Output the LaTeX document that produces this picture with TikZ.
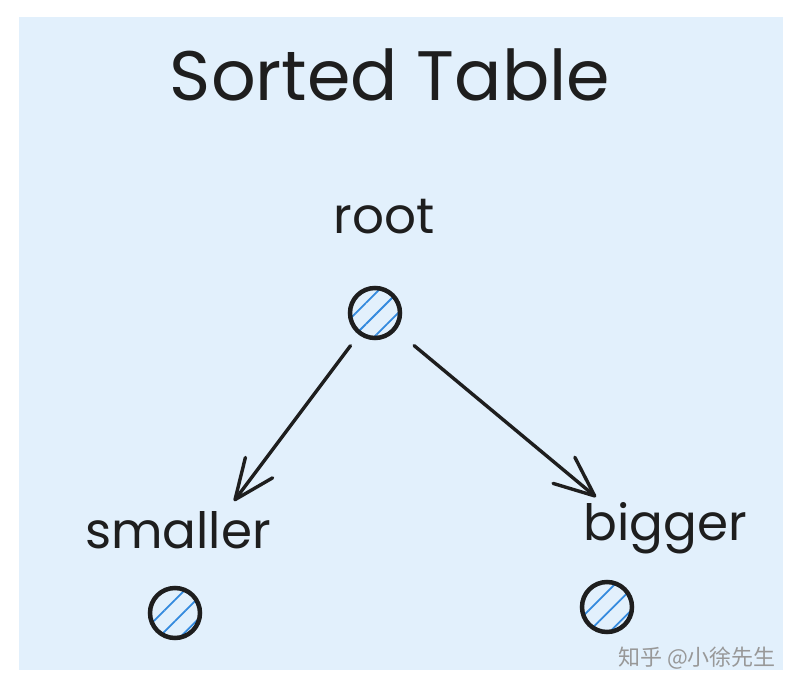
\documentclass[tikz,border=0pt]{standalone}
\usepackage{fontspec}
\setmainfont{Poppins}
\newfontfamily\cjk{Noto Sans CJK SC}
\usetikzlibrary{arrows.meta,patterns.meta}
\definecolor{paper}{RGB}{226,240,252}
\definecolor{ink}{RGB}{30,30,30}
\definecolor{hatch}{RGB}{52,138,222}
\definecolor{wmgray}{RGB}{152,152,152}

\begin{document}
\begin{tikzpicture}[x=1pt, y=-1pt]
	\tikzstyle{every node}=[inner sep=0pt, align=center, text=ink]
	\tikzstyle{dot}=[circle, draw=ink, line width=4.5pt, minimum size=50pt, pattern={Lines[angle=45, distance=15pt, line width=1.8pt]}, pattern color=hatch]
	\tikzstyle{tag}=[anchor=base, font=\fontsize{50}{50}\selectfont]
	\tikzstyle{arrow}=[draw=ink, line width=3.4pt, line cap=round, -{Straight Barb[length=40pt, width=34pt, round]}]
	\useasboundingbox (0, 0) rectangle (802, 690);
	\fill [paper] (19, 17) rectangle (783, 670);
	% title and labels
	\node [anchor=base, font=\fontsize{70}{70}\selectfont] (title) at (390, 101) {Sorted Table};
	\node [tag] (rootText) at (384, 233) {root};
	\node [tag] (smallerText) at (178, 548) {smaller};
	\node [tag] (biggerText) at (665, 540) {bigger};
	% the three entries
	\node [dot] (root) at (375, 313) {};
	\node [dot] (smaller) at (175, 613) {};
	\node [dot] (bigger) at (607, 607) {};
	\coordinate (smallerTip) at (234, 501);
	\coordinate (biggerTip) at (596, 497);
	\draw [arrow, shorten <=15pt] (root) -- (smallerTip);
	\draw [arrow, shorten <=25pt] (root) -- (biggerTip);
	\node [anchor=base, text=wmgray, font=\cjk\fontsize{22}{22}\selectfont] (credit) at (697, 665) {知乎 @小徐先生};
\end{tikzpicture}
\end{document}
